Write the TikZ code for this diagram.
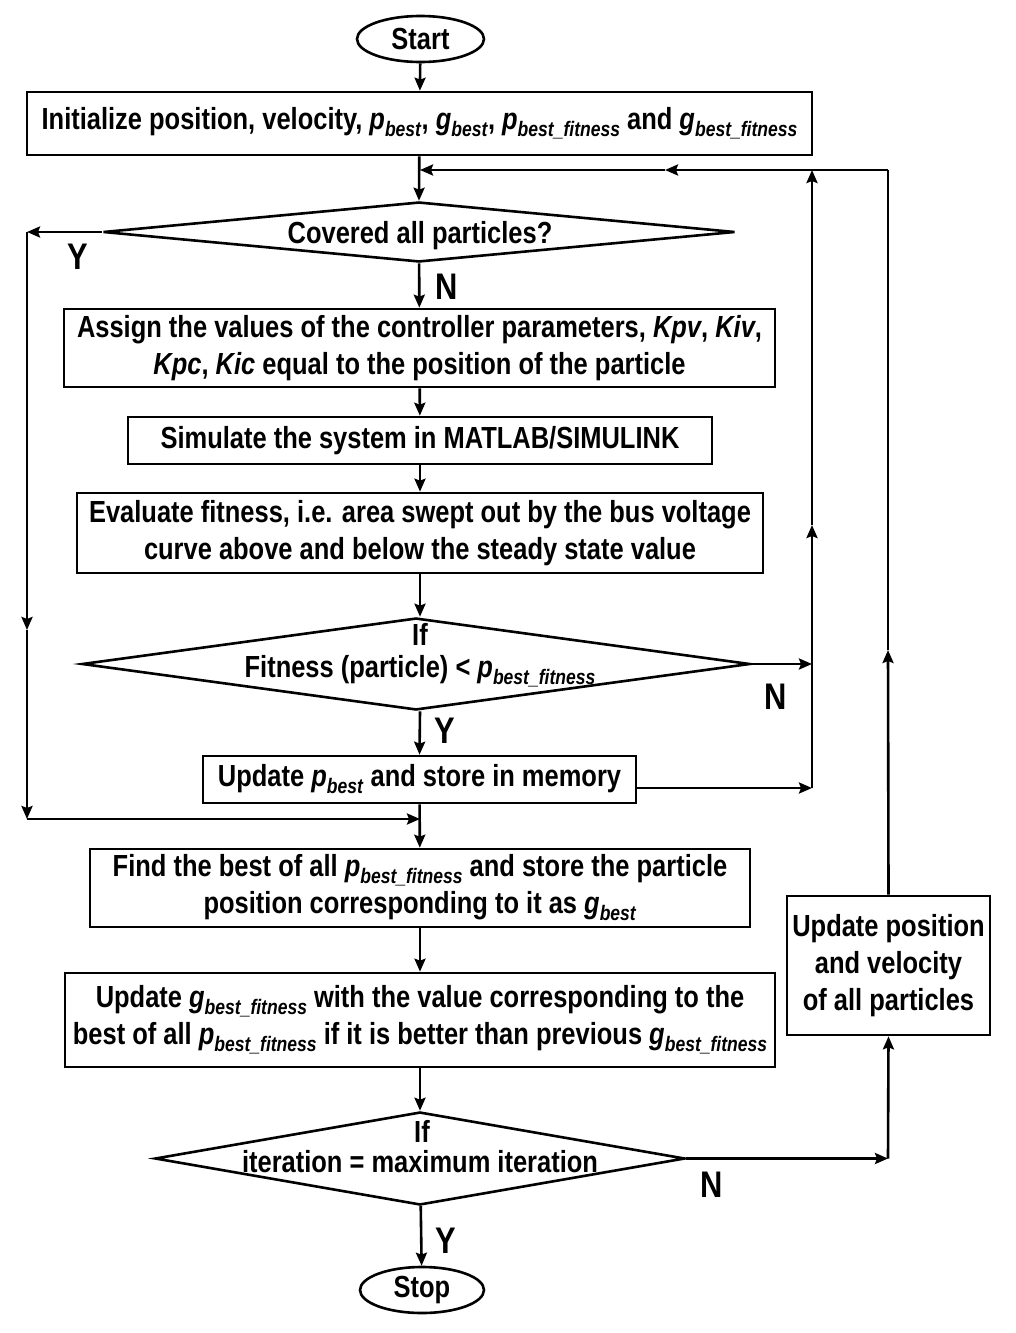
\documentclass[tikz,border=0pt]{standalone}
\usepackage{fontspec}
\setmainfont{Liberation Sans}[FakeStretch=0.835]
\usetikzlibrary{shapes.geometric,arrows.meta}
\newcommand{\sbx}[2]{\textit{#1}\raisebox{-7pt}{\fontsize{21}{21}\selectfont\textit{#2}}}
\begin{document}
\begin{tikzpicture}[x=1pt,y=-1pt,
  txt/.style={font=\fontsize{30.5}{37}\selectfont\bfseries, align=center, inner sep=0pt},
  lbl/.style={font=\fontsize{37}{37}\selectfont\bfseries, inner sep=0pt},
  box/.style={draw, line width=2.6pt, rectangle, inner sep=0pt, txt},
  term/.style={draw, line width=2.6pt, ellipse, inner sep=0pt, txt},
  dia/.style={draw, line width=2.6pt, diamond, inner sep=0pt},
  arr/.style={line width=2.6pt, -{Stealth[length=13pt,width=11pt,inset=2pt]}},
  ln/.style={line width=2.6pt}]
\useasboundingbox (0,0) rectangle (1015,1333);
% nodes
\node[term, minimum width=127, minimum height=46] (start) at (420.5,39) {Start};
\node[box, minimum width=785, minimum height=63] (init) at (419.5,123.5)
  {Initialize position, velocity, \sbx{p}{best}, \sbx{g}{best}, \sbx{p}{best\_fitness} and \sbx{g}{best\_fitness}};
\node[dia, minimum width=632, minimum height=60] (d1) at (419,232) {};
\node[txt, anchor=base] (t1) at (420,243) {Covered all particles?};
\node[box, minimum width=711, minimum height=78] (assign) at (419.5,348)
  {Assign the values of the controller parameters, \textit{Kpv}, \textit{Kiv},\\ \textit{Kpc}, \textit{Kic} equal to the position of the particle};
\node[box, minimum width=584, minimum height=47] (sim) at (420,440.5)
  {Simulate the system in MATLAB/SIMULINK};
\node[box, minimum width=686, minimum height=80] (eval) at (420,533)
  {Evaluate fitness, i.e. area swept out by the bus voltage\\ curve above and below the steady state value};
\node[dia, minimum width=668, minimum height=92] (d2) at (416,664) {};
\node[txt, anchor=base] (t2a) at (420,645) {If};
\node[txt, anchor=base] (t2b) at (420,677) {Fitness (particle) < \sbx{p}{best\_fitness}};
\node[box, minimum width=433, minimum height=47] (upb) at (419.5,779.5)
  {Update \sbx{p}{best} and store in memory};
\node[box, minimum width=660, minimum height=78] (find) at (420,888)
  {Find the best of all \sbx{p}{best\_fitness} and store the particle\\ position corresponding to it as \sbx{g}{best}};
\node[box, minimum width=710, minimum height=94] (ugb) at (420,1020)
  {Update \sbx{g}{best\_fitness} with the value corresponding to the\\ best of all \sbx{p}{best\_fitness} if it is better than previous \sbx{g}{best\_fitness}};
\node[box, minimum width=203, minimum height=139] (upos) at (888.5,965.5)
  {Update position\\ and velocity\\ of all particles};
\node[dia, minimum width=530, minimum height=93] (d3) at (420,1158.5) {};
\node[txt, anchor=base] (t3a) at (422,1142) {If};
\node[txt, anchor=base] (t3b) at (420,1172) {iteration = maximum iteration};
\node[term, minimum width=124, minimum height=46] (stop) at (422,1290) {Stop};
% labels
\node[lbl] (y1) at (78,257) {Y};
\node[lbl] (n1) at (447,287) {N};
\node[lbl] (n2) at (776,697) {N};
\node[lbl] (y2) at (445,731) {Y};
\node[lbl] (n3) at (712,1185) {N};
\node[lbl] (y3) at (446,1241) {Y};
% coordinates
\coordinate (cOR) at (888,170);
\coordinate (cMid) at (665,170);
\coordinate (cJoin) at (420,170);
\coordinate (cIT) at (812,170);
\coordinate (cL1) at (27,232);
\coordinate (cL2) at (27,630);
\coordinate (cL3) at (27,819);
\coordinate (cJ2) at (420,819);
\coordinate (cR1) at (812,664);
\coordinate (cR2) at (812,788);
\coordinate (cR3) at (812,525);
\coordinate (cO1) at (888,1158.5);
\coordinate (cO2) at (888,650);
% connectors
\draw[arr] (start) -- (init);
\draw[arr] (init) -- (d1.north);
\draw[arr] (d1) -- (assign);
\draw[arr] (assign) -- (sim);
\draw[arr] (sim) -- (eval);
\draw[arr] (eval.south) -- (eval.south |- d2.north);
\draw[arr] (eval.south |- d2.south) -- (upb.north);
\draw[arr] (upb) -- (find);
\draw[arr] (find) -- (ugb);
\draw[arr] (ugb) -- (d3);
\draw[arr] (d3) -- (stop);
% left Y branch
\draw[arr] (d1.west) -- (cL1);
\draw[arr] (cL1) -- (cL2);
\draw[arr] (cL2) -- (cL3);
\draw[arr] (cL3) -- (cJ2);
% inner right return
\draw[arr] (d2.east) -- (cR1);
\draw[arr] (upb.east |- cR2) -- (cR2);
\draw[arr] (cR2) -- (cR3);
\draw[arr] (cR3) -- (cIT);
% outer loop
\draw[arr] (d3.east) -- (cO1);
\draw[arr] (cO1) -- (upos.south);
\draw[arr] (upos.north) -- (cO2);
\draw[ln] (cO2) -- (cOR);
\draw[arr] (cOR) -- (cMid);
\draw[arr] (cMid) -- (cJoin);
\end{tikzpicture}
\end{document}
